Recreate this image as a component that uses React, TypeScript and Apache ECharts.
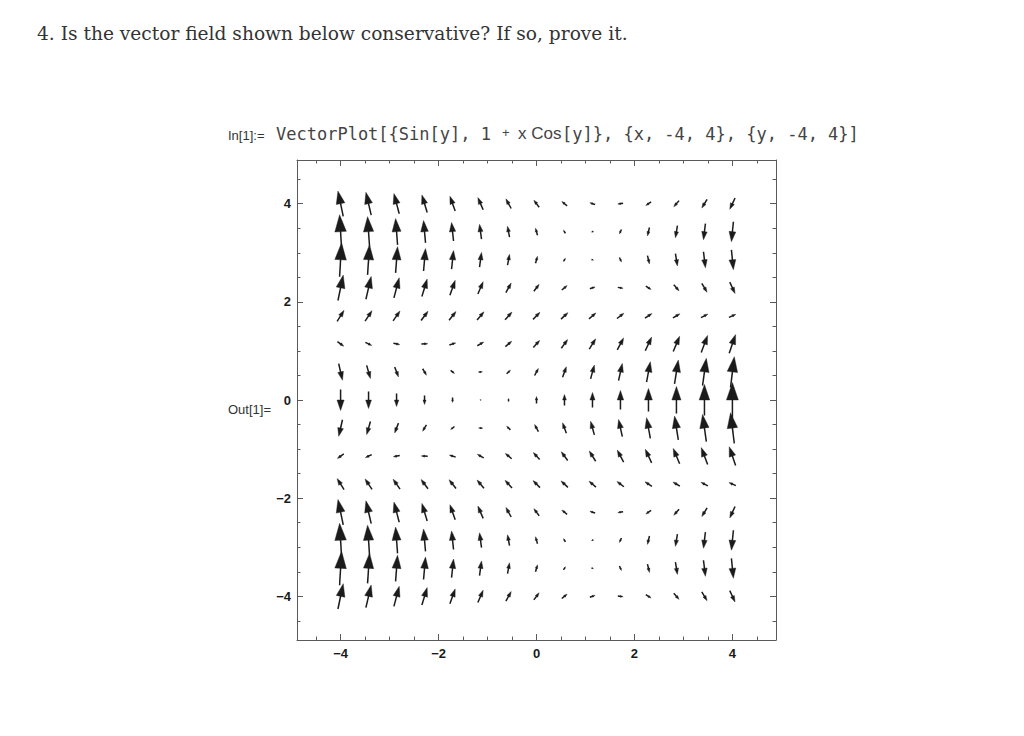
import React, { useEffect, useRef } from "react";
import * as echarts from "echarts";

// ---- data ----
const titleText = "4. Is the vector field shown below conservative? If so, prove it.";
const inLabel = "In[1]:=";
const outLabel = "Out[1]=";
const codeParts = ["VectorPlot[{Sin[y], 1", "+", "x Cos", "[y]}, {x, -4, 4}, {y, -4, 4}]"];

const gridX = [-4, -3.429, -2.857, -2.286, -1.714, -1.143, -0.571, 0, 0.571, 1.143, 1.714, 2.286, 2.857, 3.429, 4];
const gridY = [-4, -3.429, -2.857, -2.286, -1.714, -1.143, -0.571, 0, 0.571, 1.143, 1.714, 2.286, 2.857, 3.429, 4];

// x-component of each arrow, one value per row (rows from y = -4 up to y = 4)
const uByRow = [0.757, 0.283, -0.281, -0.755, -0.99, -0.91, -0.541, 0, 0.541, 0.91, 0.99, 0.755, 0.281, -0.283, -0.757];

// y-component of each arrow, rows from y = -4 up to y = 4, columns from x = -4 to x = 4
const vRows = [
  [3.61, 3.24, 2.87, 2.49, 2.12, 1.75, 1.37, 1.0, 0.63, 0.25, -0.12, -0.49, -0.87, -1.24, -1.61],
  [4.84, 4.29, 3.74, 3.19, 2.64, 2.1, 1.55, 1.0, 0.45, -0.1, -0.64, -1.19, -1.74, -2.29, -2.84],
  [4.84, 4.29, 3.74, 3.19, 2.65, 2.1, 1.55, 1.0, 0.45, -0.1, -0.65, -1.19, -1.74, -2.29, -2.84],
  [3.62, 3.25, 2.87, 2.5, 2.12, 1.75, 1.37, 1.0, 0.63, 0.25, -0.12, -0.5, -0.87, -1.25, -1.62],
  [1.57, 1.49, 1.41, 1.33, 1.25, 1.16, 1.08, 1.0, 0.92, 0.84, 0.75, 0.67, 0.59, 0.51, 0.43],
  [-0.66, -0.42, -0.19, 0.05, 0.29, 0.53, 0.76, 1.0, 1.24, 1.47, 1.71, 1.95, 2.19, 2.42, 2.66],
  [-2.36, -1.88, -1.4, -0.92, -0.44, 0.04, 0.52, 1.0, 1.48, 1.96, 2.44, 2.92, 3.4, 3.88, 4.36],
  [-3.0, -2.43, -1.86, -1.29, -0.71, -0.14, 0.43, 1.0, 1.57, 2.14, 2.71, 3.29, 3.86, 4.43, 5.0],
  [-2.36, -1.88, -1.4, -0.92, -0.44, 0.04, 0.52, 1.0, 1.48, 1.96, 2.44, 2.92, 3.4, 3.88, 4.36],
  [-0.66, -0.42, -0.19, 0.05, 0.29, 0.53, 0.76, 1.0, 1.24, 1.47, 1.71, 1.95, 2.19, 2.42, 2.66],
  [1.57, 1.49, 1.41, 1.33, 1.25, 1.16, 1.08, 1.0, 0.92, 0.84, 0.75, 0.67, 0.59, 0.51, 0.43],
  [3.62, 3.25, 2.87, 2.5, 2.12, 1.75, 1.37, 1.0, 0.63, 0.25, -0.12, -0.5, -0.87, -1.25, -1.62],
  [4.84, 4.29, 3.74, 3.19, 2.65, 2.1, 1.55, 1.0, 0.45, -0.1, -0.65, -1.19, -1.74, -2.29, -2.84],
  [4.84, 4.29, 3.74, 3.19, 2.64, 2.1, 1.55, 1.0, 0.45, -0.1, -0.64, -1.19, -1.74, -2.29, -2.84],
  [3.61, 3.24, 2.87, 2.49, 2.12, 1.75, 1.37, 1.0, 0.63, 0.25, -0.12, -0.49, -0.87, -1.24, -1.61],
];

const majorTicks = [-4, -2, 0, 2, 4];
const minorTicks = [-4.5, -3.5, -3, -2.5, -1.5, -1, -0.5, 0.5, 1, 1.5, 2.5, 3, 3.5, 4.5];
const axisMin = -4.89;
const axisMax = 4.89;

// ---- style ----
const ARROW_SCALE = 0.143; // data units of arrow length per unit of magnitude
const ARROW_COLOR = "#1b1b1b";
const FRAME_COLOR = "#5a5a5a";
const LABEL_FONT = '"Liberation Sans", Arial, sans-serif';
const MONO = '17px "DejaVu Sans Mono", monospace';
const SANS17 = '17px "Liberation Sans", Arial, sans-serif';
const CODE_COLOR = "#444444";

const fmt = (v: number) => String(v).replace("-", "\u2212");

function makeAxes(dim: "x" | "y") {
  const pos = dim === "x" ? ["bottom", "top"] : ["left", "right"];
  const base = (position: string, ticks: number[], len: number, labels: boolean, line: boolean) => ({
    type: "value",
    position,
    min: axisMin,
    max: axisMax,
    axisLine: { show: line, onZero: false, lineStyle: { color: FRAME_COLOR, width: 1 } },
    axisTick: { show: true, inside: true, length: len, customValues: ticks, lineStyle: { color: FRAME_COLOR, width: 1 } },
    axisLabel: labels
      ? {
          show: true,
          customValues: majorTicks,
          formatter: fmt,
          margin: dim === "x" ? 7 : 6,
          color: "#1a1a1a",
          fontFamily: LABEL_FONT,
          fontSize: 13,
          fontWeight: "bold",
        }
      : { show: false },
    splitLine: { show: false },
  });
  return [
    base(pos[0], majorTicks, 6, true, true),
    base(pos[0], minorTicks, 3.5, false, false),
    base(pos[1], majorTicks, 6, false, true),
    base(pos[1], minorTicks, 3.5, false, false),
  ];
}

export default function App() {
  const ref = useRef<HTMLDivElement>(null);

  useEffect(() => {
    if (!ref.current) return;
    const chart = echarts.init(ref.current, undefined, { renderer: "svg" });

    const data: number[][] = [];
    gridY.forEach((y, k) => {
      gridX.forEach((x, j) => {
        data.push([x, y, uByRow[k], vRows[k][j]]);
      });
    });

    const renderItem = (params: any, api: any) => {
      const x = api.value(0);
      const y = api.value(1);
      const u = api.value(2);
      const v = api.value(3);
      const p0 = api.coord([x - (ARROW_SCALE * u) / 2, y - (ARROW_SCALE * v) / 2]);
      const p1 = api.coord([x + (ARROW_SCALE * u) / 2, y + (ARROW_SCALE * v) / 2]);
      const dx = p1[0] - p0[0];
      const dy = p1[1] - p0[1];
      const L = Math.sqrt(dx * dx + dy * dy);
      if (L < 0.6) return null;
      const ux = dx / L;
      const uy = dy / L;
      const h = 0.5 * L;
      const w = 0.17 * L;
      const bx = p1[0] - h * ux;
      const by = p1[1] - h * uy;
      const nx = -uy;
      const ny = ux;
      return {
        type: "group",
        children: [
          {
            type: "line",
            shape: { x1: p0[0], y1: p0[1], x2: bx + 0.3 * h * ux, y2: by + 0.3 * h * uy },
            style: { stroke: ARROW_COLOR, lineWidth: 1.5, lineCap: "butt" },
          },
          {
            type: "polygon",
            shape: {
              points: [
                [p1[0], p1[1]],
                [bx + w * nx, by + w * ny],
                [bx - w * nx, by - w * ny],
              ],
            },
            style: { fill: ARROW_COLOR, stroke: ARROW_COLOR, lineWidth: 0.4 },
          },
        ],
      };
    };

    chart.setOption({
      animation: false,
      backgroundColor: "#ffffff",
      grid: { left: 297, top: 160, width: 479, height: 480 },
      xAxis: makeAxes("x"),
      yAxis: makeAxes("y"),
      graphic: [
        {
          type: "text",
          left: 37,
          top: 24,
          style: { text: titleText, font: '18.6px "DejaVu Serif", serif', fill: "#333333" },
        },
        {
          type: "text",
          left: 228,
          top: 129,
          style: { text: inLabel, font: '13px "Liberation Sans", Arial, sans-serif', fill: "#333333" },
        },
        {
          type: "text",
          left: 276,
          top: 125,
          style: { text: codeParts[0], font: MONO, fill: CODE_COLOR },
        },
        {
          type: "text",
          left: 502,
          top: 126,
          style: { text: codeParts[1], font: '13px "Liberation Sans", Arial, sans-serif', fill: CODE_COLOR },
        },
        {
          type: "text",
          left: 518,
          top: 125,
          style: { text: codeParts[2], font: SANS17, fill: CODE_COLOR },
        },
        {
          type: "text",
          left: 562,
          top: 125,
          style: { text: codeParts[3], font: MONO, fill: CODE_COLOR },
        },
        {
          type: "text",
          left: 228,
          top: 403,
          style: { text: outLabel, font: '13px "Liberation Sans", Arial, sans-serif', fill: "#333333" },
        },
      ],
      series: [
        {
          type: "custom",
          coordinateSystem: "cartesian2d",
          xAxisIndex: 0,
          yAxisIndex: 0,
          renderItem,
          encode: { x: 0, y: 1 },
          data,
          silent: true,
        },
      ],
    });

    return () => chart.dispose();
  }, []);

  return (
    <div
      ref={ref}
      style={{ position: "absolute", left: 0, top: 0, width: 1024, height: 736 }}
    />
  );
}
